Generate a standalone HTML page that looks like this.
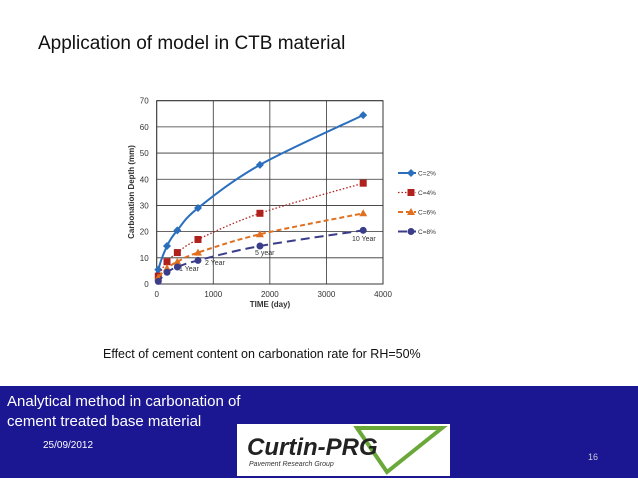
<!DOCTYPE html>
<html><head><meta charset="utf-8"><style>
body{margin:0;width:638px;height:478px;overflow:hidden;background:#fff;font-family:"Liberation Sans",sans-serif;position:relative}
.t{position:absolute;white-space:nowrap}
</style></head><body>
<div class="t" style="left:38px;top:33px;font-size:19px;color:#111">Application of model in CTB material</div>
<svg id="chart" width="638" height="478" style="position:absolute;left:0;top:0" font-family="Liberation Sans, sans-serif"></svg>
<div class="t" style="left:103px;top:347px;font-size:12.5px;color:#111">Effect of cement content on carbonation rate for RH=50%</div>
<div style="position:absolute;left:0;top:386px;width:638px;height:92px;background:#1b1691"></div>
<div class="t" style="left:7px;top:392px;font-size:15px;line-height:20px;color:#fff">Analytical method in carbonation of<br>cement treated base material</div>
<div class="t" style="left:43px;top:440px;font-size:10px;color:#fff">25/09/2012</div>
<div class="t" style="left:588px;top:452px;font-size:9px;color:#ccd">16</div>
<div style="position:absolute;left:237px;top:424px;width:213px;height:52px;background:#fff">
<svg width="213" height="52"><polygon points="120,4 205,4 150,48" fill="none" stroke="#6aa83a" stroke-width="4"/>
<text x="10" y="31" font-size="24" font-style="italic" font-weight="bold" fill="#222" font-family="Liberation Sans, sans-serif">Curtin-PRG</text>
<text x="12" y="42" font-size="7" font-style="italic" fill="#333" font-family="Liberation Sans, sans-serif">Pavement Research Group</text></svg></div>
<script>
const days=[28,182,365,730,1825,3650];
const c2=[5.5,14.5,20.5,29,45.5,64.5];
const c4=[3,8.5,12,17,27,38.5];
const c6=[2.5,6,8.5,12,19,27];
const c8=[1,4.5,6.5,9,14.5,20.5];
const xTicks=[0,1000,2000,3000,4000];
const yTicks=[0,10,20,30,40,50,60,70];
const names=["C=2%","C=4%","C=6%","C=8%"];
const ns="http://www.w3.org/2000/svg",svg=document.getElementById('chart');
const X=v=>156.7+v*(383-156.7)/4000, Y=v=>284-v*(284-100.7)/70;
function mk(t,a,p){const e=document.createElementNS(ns,t);for(const k in a)e.setAttribute(k,a[k]);(p||svg).appendChild(e);return e;}
let e=mk('rect',{x:X(0),y:Y(70),width:X(4000)-X(0),height:Y(0)-Y(70),fill:'#fff',stroke:'#444','stroke-width':1});

xTicks.forEach(v=>{let l=mk('line',{x1:X(v),x2:X(v),y1:Y(0),y2:Y(70),stroke:'#333','stroke-width':0.8});

let t=mk('text',{x:X(v),y:Y(0)+13,'font-size':8,'text-anchor':'middle',fill:'#333'});t.textContent=v;
});
yTicks.forEach(v=>{let l=mk('line',{x1:X(0),x2:X(4000),y1:Y(v),y2:Y(v),stroke:'#333','stroke-width':0.8});

let t=mk('text',{x:X(0)-8,y:Y(v)+3,'font-size':8,'text-anchor':'end',fill:'#333'});t.textContent=v;
});
let xt=mk('text',{x:270,y:307,'font-size':8,'font-weight':'bold','text-anchor':'middle',fill:'#333'});xt.textContent='TIME  (day)';

let yt=mk('text',{x:0,y:0,'font-size':8,'font-weight':'bold','text-anchor':'middle',fill:'#333',transform:'translate(134,192) rotate(-90)'});yt.textContent='Carbonation Depth (mm)';

const series=[c2,c4,c6,c8],cols=['#2a6fbd','#b0201c','#e07020','#3a3d8a'],dash=['','1.5,2','5,3','9,5'],shp=['d','s','t','c'];
function marker(s,x,y,c,g){if(s=='d')return mk('polygon',{points:`${x},${y-4} ${x+4},${y} ${x},${y+4} ${x-4},${y}`,fill:c},g);
if(s=='s')return mk('rect',{x:x-3.5,y:y-3.5,width:7,height:7,fill:c},g);
if(s=='t')return mk('polygon',{points:`${x},${y-4} ${x+4},${y+3} ${x-4},${y+3}`,fill:c},g);
return mk('circle',{cx:x,cy:y,r:3.5,fill:c},g);}
function smooth(pts){let d='M'+pts[0][0]+','+pts[0][1];
for(let i=0;i<pts.length-1;i++){const p0=pts[Math.max(i-1,0)],p1=pts[i],p2=pts[i+1],p3=pts[Math.min(i+2,pts.length-1)];
const c1=[p1[0]+(p2[0]-p0[0])/6,p1[1]+(p2[1]-p0[1])/6],c2=[p2[0]-(p3[0]-p1[0])/6,p2[1]-(p3[1]-p1[1])/6];
d+=` C${c1[0]},${c1[1]} ${c2[0]},${c2[1]} ${p2[0]},${p2[1]}`;}return d;}
series.forEach((s,i)=>{const g=mk('g',{});
const pts=[[X(0),Y(0)]].concat(days.map((v,j)=>[X(v),Y(s[j])]));
let p=mk('path',{d:smooth(pts),fill:'none',stroke:cols[i],'stroke-width':i==1?1.3:2,'stroke-dasharray':dash[i]},g);

days.forEach((v,j)=>{let m=marker(shp[i],X(v),Y(s[j]),cols[i],g);});
const ly=173+i*19.5;
let ll=mk('line',{x1:398,x2:416,y1:ly,y2:ly,stroke:cols[i],'stroke-width':i==1?1.3:2,'stroke-dasharray':dash[i]});

let lm=marker(shp[i],411,ly,cols[i]);
let lt=mk('text',{x:418,y:ly+2.5,'font-size':6.5,fill:'#333'});lt.textContent=names[i];
});
[['1 Year',179,271],['2 Year',205,265],['5 year',255,255],['10 Year',352,241]].forEach(a=>{let t=mk('text',{x:a[1],y:a[2],'font-size':7,fill:'#333'});t.textContent=a[0];
});
</script>
</body></html>
